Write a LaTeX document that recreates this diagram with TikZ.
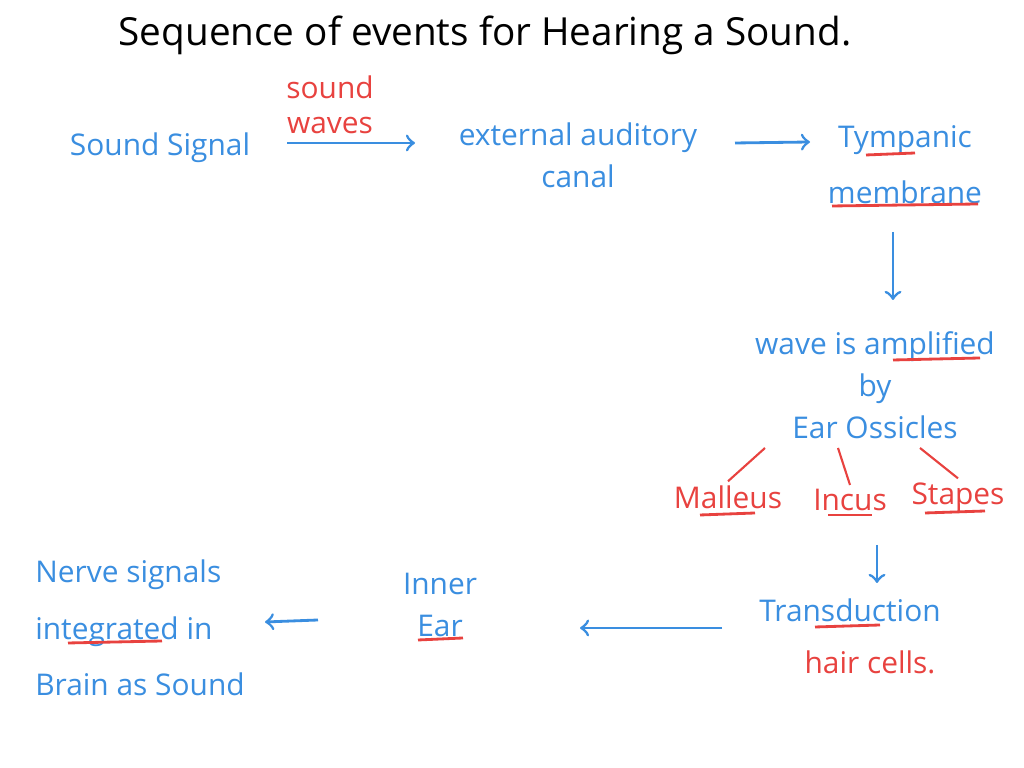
\documentclass[tikz,border=0pt]{standalone}
\usepackage{fontspec}
\setmainfont{Open Sans}
\begin{document}
\begin{tikzpicture}[x=0.01cm,y=-0.01cm,
  bl/.style={text=blueT,font=\fontsize{8.5}{12}\selectfont,align=center,inner sep=1pt},
  rd/.style={text=redT,font=\fontsize{8.5}{10}\selectfont,align=center,inner sep=1pt},
  arr/.style={draw=blueT,line width=0.8pt,->},
  ul/.style={draw=redT,line width=0.8pt},
  rl/.style={draw=redT,line width=0.6pt}]
\definecolor{blueT}{HTML}{3A8EE0}
\definecolor{redT}{HTML}{E8423F}
\useasboundingbox[fill=white] (0,0) rectangle (1024,768);
\node[font=\fontsize{11}{14}\selectfont] (title) at (485,35) {Sequence of events for Hearing a Sound.};
\node[bl] (ss) at (160,148) {Sound Signal};
\node[rd] (sw) at (330,105) {sound\\waves};
\node[bl] (eac) at (578,155) {external auditory\\canal};
\node[bl,font=\fontsize{8.5}{16}\selectfont] (tm) at (905,165) {Tympanic\\membrane};
\node[bl] (amp) at (875,385) {wave is amplified\\by\\Ear Ossicles};
\node[rd] (mal) at (728,497) {Malleus};
\node[rd] (inc) at (850,500) {Incus};
\node[rd] (sta) at (958,497) {Stapes};
\node[bl] (tr) at (850,610) {Transduction};
\node[rd] (hc) at (870,662) {hair cells.};
\node[bl] (ie) at (440,605) {Inner\\Ear};
\node[bl,align=left,font=\fontsize{8.5}{16}\selectfont] (ns) at (140,628) {Nerve signals\\integrated in\\Brain as Sound};
\coordinate (a1) at (287,143); \coordinate (b1) at (415,143);
\coordinate (a2) at (735,143); \coordinate (b2) at (810,142);
\coordinate (a3) at (893,232); \coordinate (b3) at (893,300);
\coordinate (a4) at (877,545); \coordinate (b4) at (877,583);
\coordinate (a5) at (722,628); \coordinate (b5) at (580,628);
\coordinate (a6) at (318,620); \coordinate (b6) at (265,622);
\draw[arr] (a1) -- (b1);
\draw[arr] (a2) -- (b2);
\draw[arr] (a3) -- (b3);
\draw[arr] (a4) -- (b4);
\draw[arr] (a5) -- (b5);
\draw[arr] (a6) -- (b6);
\draw[rl] (amp.south)+(-110,5) -- (mal.north);
\draw[rl] (amp.south)+(-37,5) -- (inc.north);
\draw[rl] (amp.south)+(45,5) -- (sta.north);
% underlines
\draw[ul] (866,155) -- (915,153);
\draw[ul] (832,206) -- (978,204);
\draw[ul] (893,360) -- (980,358);
\draw[ul] (700,515) -- (755,513);
\draw[ul] (828,515) -- (872,515);
\draw[ul] (925,513) -- (985,511);
\draw[ul] (815,627) -- (880,625);
\draw[ul] (418,640) -- (463,638);
\draw[ul] (68,643) -- (162,641);
\end{tikzpicture}
\end{document}
